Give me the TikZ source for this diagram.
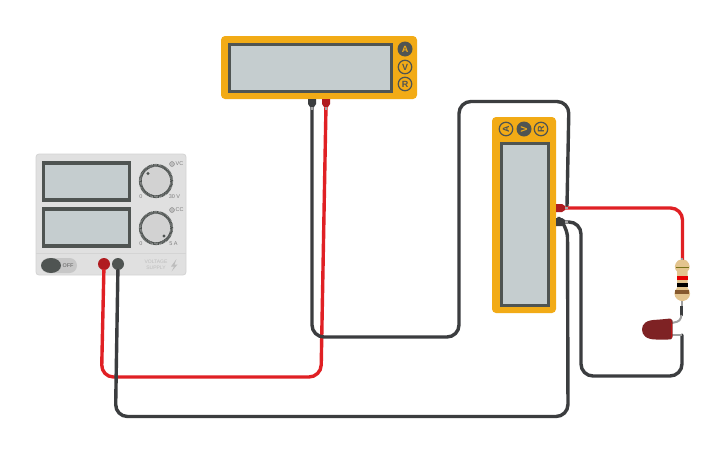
\documentclass[tikz,border=0pt]{standalone}
\usepackage{fontspec}
\setmainfont{Liberation Sans}
\usetikzlibrary{calc,shapes.geometric}
\definecolor{meterbody}{HTML}{F2AB16}
\definecolor{lcd}{HTML}{C5CDCF}
\definecolor{bezel}{HTML}{4F5452}
\definecolor{wireblk}{HTML}{3B3D3F}
\definecolor{wirered}{HTML}{E02024}
\definecolor{psubody}{HTML}{E0E0E0}
\definecolor{psuedge}{HTML}{D4D4D4}
\definecolor{termred}{HTML}{B01C20}
\definecolor{knob}{HTML}{D2D2D2}
\definecolor{pslabel}{HTML}{7E7E7E}
\definecolor{faint}{HTML}{BDBDBD}
\definecolor{ledred}{HTML}{7E2224}
\definecolor{band}{HTML}{E3C48E}
\tikzset{
  box/.style={inner sep=0pt,outer sep=0pt,anchor=north west},
  meter/.style={box,fill=meterbody,rounded corners=4pt},
  screen/.style={box,fill=lcd,draw=bezel,line width=3pt},
  psuscreen/.style={box,fill=lcd,draw=bezel,line width=3.2pt},
  wire/.style={line width=3.4pt,rounded corners=12pt,line cap=round,line join=round},
  blackwire/.style={wire,draw=wireblk},
  redwire/.style={wire,draw=wirered},
  selon/.style={circle,fill=bezel,text=meterbody,minimum size=15pt,inner sep=0pt,font=\fontsize{9}{9}\selectfont\bfseries},
  seloff/.style={circle,draw=bezel,line width=1.2pt,fill=meterbody,text=bezel,minimum size=13.5pt,inner sep=0pt,font=\fontsize{9}{9}\selectfont\bfseries},
  psutext/.style={inner sep=0pt,text=pslabel,font=\fontsize{5.5}{6}\selectfont},
  fainttext/.style={inner sep=0pt,text=faint,align=center,font=\fontsize{5}{5.5}\selectfont},
  knobdial/.style={circle,fill=knob,minimum size=28pt,inner sep=0pt},
  knobring/.style={circle,fill=knob,draw=bezel,line width=3.2pt,dash pattern=on 0.8pt off 0.45pt,minimum size=31pt,inner sep=0pt},
  lamp/.style={circle,fill=faint,draw=pslabel,line width=0.3pt,minimum size=5pt,inner sep=0pt}
}
\begin{document}
\begin{tikzpicture}[x=1pt,y=-1pt]
\useasboundingbox (0,0) rectangle (725,453);
\fill[white] (0,0) rectangle (725,453);

% power supply
\node[box,fill=psubody,draw=psuedge,line width=0.8pt,rounded corners=3pt,minimum width=150pt,minimum height=121pt] (psu) at (36,154) {};
\draw[psuedge,line width=0.8pt] (36,253) -- (186,253);
\node[psuscreen,minimum width=86pt,minimum height=37pt] (ps1) at (43.5,163) {};
\node[psuscreen,minimum width=86pt,minimum height=37pt] (ps2) at (43.5,209) {};
\node[knobring] (k1) at (156,181) {};
\node[knobdial] at (k1) {};
\node[knobring] (k2) at (156,228) {};
\node[knobdial] at (k2) {};
\fill[bezel] (148,173.5) circle (1.6);
\fill[bezel] (164,236) circle (1.6);
\node[lamp] (l1) at (172,164) {};
\node[lamp] (l2) at (172,210) {};
\node[psutext,anchor=west] (vc) at (175.5,164) {VC};
\node[psutext,anchor=west] (cc) at (175.5,210) {CC};
\node[psutext] (z1) at (141,197) {0};
\node[psutext] (z2) at (141,243.5) {0};
\node[psutext] (v30) at (174.5,197) {30 V};
\node[psutext] (a5) at (173.5,243.5) {5 A};
\node[box,fill=faint!85!white,rounded corners=7.5pt,minimum width=36pt,minimum height=15pt] (sw) at (41,258) {};
\node[ellipse,fill=bezel,minimum width=20pt,minimum height=15pt,inner sep=0pt] (swk) at (51,265.5) {};
\node[psutext,font=\fontsize{5.5}{5.5}\selectfont\bfseries] (off) at (68,265.5) {OFF};
\node[fainttext] (vs) at (156,265) {VOLTAGE\\SUPPLY};
\fill[faint] (176.5,259) -- (171,266.5) -- (174,266.5) -- (171.5,271.5) -- (177.5,264.5) -- (174.5,264.5) -- cycle;

% terminals of the supply
\node[circle,fill=termred,minimum size=12pt,inner sep=0pt] (psplus) at (104,264) {};
\node[circle,fill=bezel,minimum size=12pt,inner sep=0pt] (psminus) at (118,264) {};

% ammeter
\node[meter,minimum width=196pt,minimum height=63pt] (m1) at (221,36) {};
\node[screen,minimum width=162pt,minimum height=47pt] (m1s) at (229,44) {};
\node[selon] (ba) at (405,49) {A};
\node[seloff] (bv) at (405,67) {V};
\node[seloff] (br) at (405,84) {R};

% voltmeter
\node[meter,minimum width=64pt,minimum height=196pt] (m2) at (492,117) {};
\node[screen,minimum width=47pt,minimum height=162pt] (m2s) at (501,143) {};
\node[seloff,rotate=90] (bb1) at (506,129) {A};
\node[selon,rotate=90] (bb2) at (524,129) {V};
\node[seloff,rotate=90] (bb3) at (541,129) {R};

% leads' anchor points
\coordinate (m1blk) at (312,105);
\coordinate (m1red) at (326,105);
\coordinate (m2red) at (563,208);
\coordinate (m2blk) at (563,222);
\coordinate (rtop) at (682.5,262);
\coordinate (ledk) at (682,335);

% wires
\draw[redwire] (psplus) -- (101.5,377) -- (321,377) -- (m1red);
\draw[blackwire] (psminus) -- (115.5,416.5) -- (568,416.5) -- (567.5,226) -- (m2blk);
\draw[blackwire] (m1blk) -- (312,337) -- (459,337) -- (459,101.5) -- (569,101.5) -- (567,206);
\draw[redwire] (m2red) -- (682.5,208) -- (rtop);
\draw[blackwire] (m2blk) -- (581,222) -- (581,376) -- (682,376) -- (ledk);

% probes on the ammeter
\fill[wireblk] (308,99) -- (316,99) -- (316,104) -- (314,107) -- (310,107) -- (308,104) -- cycle;
\fill[termred] (322,99) -- (330,99) -- (330,104) -- (328,107) -- (324,107) -- (322,104) -- cycle;
\fill[gray!70] (310.8,106.5) rectangle (313.2,110);
\fill[gray!70] (324.8,106.5) rectangle (327.2,110);

% probes on the voltmeter
\fill[termred] (556,204) -- (562,204) -- (565,206) -- (565,210) -- (562,212) -- (556,212) -- cycle;
\fill[wireblk] (556,218) -- (562,218) -- (565,220) -- (565,224) -- (562,226) -- (556,226) -- cycle;
\fill[gray!70] (565,206.8) rectangle (568,209.2);
\fill[gray!70] (565,220.8) rectangle (568,223.2);

% resistor
\draw[gray!75,line width=2pt] (682.3,258) -- (682.3,307);
\fill[band] (678,260.5) .. controls (680,259.5) and (684.5,259.5) .. (686.5,260.5)
  .. controls (690.5,264) and (690.5,269) .. (687.5,271.5) -- (687.5,288)
  .. controls (691,291) and (691,296.5) .. (687,299.5)
  .. controls (684,301.5) and (680.5,301.5) .. (677.5,299.5)
  .. controls (673.5,296.5) and (673.5,291) .. (677,288) -- (677,271.5)
  .. controls (674,269) and (674,264) .. (678,260.5) -- cycle;
\fill[olive!80!black] (676,266.7) rectangle (688.5,267.6);
\fill[red!90!black] (677,275.5) rectangle (687.5,279.5);
\fill[black] (677,282.5) rectangle (687.5,286.5);
\fill[brown!70!black] (675.3,290) rectangle (689.3,293.5);

% lead to the LED
\draw[wireblk,line width=3.4pt] (681.5,306) -- (681.5,316);
\draw[gray!75,line width=2pt,rounded corners=3pt] (681.5,315) -- (680,321) -- (672,323);
\draw[gray!75,line width=2pt] (672,335) -- (682,335);

% LED
\path[fill=ledred] (656,319.8) .. controls (660,319.5) and (666,319) .. (670,318.5)
  .. controls (673,320) and (673,321) .. (672.5,324) -- (672.5,337)
  .. controls (672,339) and (671,340) .. (668,339.5)
  .. controls (663,339.8) and (660,339.8) .. (656,339.5)
  .. controls (646,339.5) and (642,335) .. (642,329.5)
  .. controls (642,324) and (646,320) .. (656,319.8) -- cycle;
\draw[red!50!ledred,line width=0.6pt] (670,319.5) -- (671.5,324) -- (671.5,338);
\end{tikzpicture}
\end{document}
